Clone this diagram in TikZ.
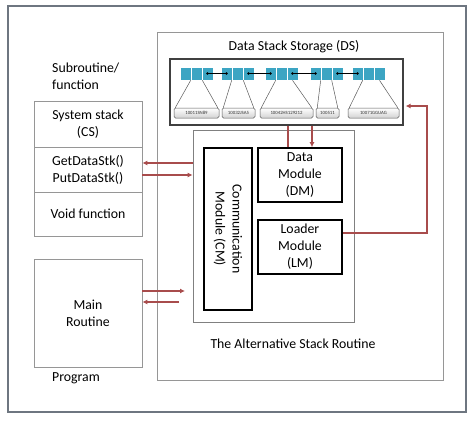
\documentclass[tikz,border=0pt]{standalone}
\usepackage{fontspec}
\setmainfont{Carlito}
\usetikzlibrary{arrows.meta}
\definecolor{arrowred}{RGB}{168,76,76}
\definecolor{cellblue}{RGB}{60,165,195}
\definecolor{framegray}{RGB}{110,118,128}
\definecolor{boxgray}{RGB}{150,150,150}
\begin{document}
\begin{tikzpicture}[x=1pt,y=-1pt,
  txt/.style={font=\fontsize{13.8}{17}\selectfont, align=center, inner sep=0},
  graybox/.style={draw=boxgray, line width=0.8pt, inner sep=0},
  blackbox/.style={draw=black, line width=1.6pt, inner sep=0, font=\fontsize{13.8}{17}\selectfont, align=center},
  arr/.style={draw=arrowred, line width=1.5pt, -{Latex[length=5pt,width=5pt]}},
  redline/.style={draw=arrowred, line width=1.5pt},
  cell/.style={fill=cellblue, draw=white, line width=0.6pt, minimum width=11, minimum height=13, inner sep=0},
  lab/.style={draw=gray!70!black, line width=0.5pt, rounded corners=1.5pt, top color=white, bottom color=gray!35, minimum height=10, inner sep=0, font=\fontsize{4.8}{5}\selectfont, text=gray!40!black},
  fan/.style={draw=gray!70!black, line width=0.5pt},
  link/.style={draw=black, line width=0.6pt}]
\useasboundingbox (0,0) rectangle (474,421);

% frames
\node[draw=framegray, line width=1.5pt, minimum width=458, minimum height=406, inner sep=0] (outer) at (237,209) {};
\node[graybox, minimum width=286, minimum height=348] (alt) at (300,206) {};
\node[draw=black!75, line width=1.2pt, minimum width=233, minimum height=66, inner sep=0] (ds) at (286.5,92) {};
\node[graybox, draw=gray, minimum width=161, minimum height=192] (cont) at (273.5,226) {};

% modules
\node[blackbox, minimum width=48, minimum height=162] (cm) at (228,229) {};
\node[txt, rotate=-90] (cmtext) at (cm.center) {Communication\\Module (CM)};
\node[blackbox, minimum width=84, minimum height=54] (dm) at (300,175) {Data\\Module\\(DM)};
\node[blackbox, minimum width=84, minimum height=54] (lm) at (300,247) {Loader\\Module\\(LM)};

% left stack
\node[graybox, minimum width=108, minimum height=46, txt] (cs1) at (88,124) {System stack\\(CS)};
\node[graybox, minimum width=108, minimum height=45, txt] (cs2) at (88,169.5) {GetDataStk()\\PutDataStk()};
\node[graybox, minimum width=108, minimum height=44, txt] (cs3) at (88,214) {Void function};
\node[graybox, minimum width=108, minimum height=108, txt] (main) at (88,313) {Main\\Routine};

% texts
\node[txt, align=left, anchor=west] (sub) at (52,76) {Subroutine/\\function};
\node[txt, anchor=west] (prog) at (52,378) {Program};
\node[txt] (dstitle) at (294,47) {Data Stack Storage (DS)};
\node[txt] (alttitle) at (293,344) {The Alternative Stack Routine};

% cells
\foreach \g/\x in {1/180,2/221,3/265,4/310,5/352}{
  \foreach \c in {1,2,3}{
    \node[cell] (g\g c\c) at ({\x+11*\c-5.5},73.5) {};
  }
}
\foreach \a/\b in {1/2,2/3,3/4,4/5}{
  \draw[link] (g\a c3.center) -- (g\b c1.center);
  \fill (g\a c3.center) circle (1.4);
  \fill (g\b c1.center) circle (1.4);
}

% labels
\node[lab, minimum width=45] (lab1) at (196.5,113) {10011SN89};
\node[lab, minimum width=33] (lab2) at (238.5,113) {10032JSA5};
\node[lab, minimum width=53] (lab3) at (286.5,113) {10042HS129212};
\node[lab, minimum width=23] (lab4) at (327.5,113) {100511};
\node[lab, minimum width=51] (lab5) at (373.5,113) {10071GGUAG};

% fan lines
\draw[fan] (g1c2.south west) -- ([xshift=1.5pt]lab1.north west);
\draw[fan] (g1c2.south east) -- ([xshift=-1.5pt]lab1.north east);
\draw[fan] (g2c2.south west) -- ([xshift=1.5pt]lab2.north west);
\draw[fan] (g2c2.south east) -- ([xshift=-1.5pt]lab2.north east);
\draw[fan] (g3c2.south west) -- ([xshift=1.5pt]lab3.north west);
\draw[fan] (g3c3.south) -- ([xshift=-1.5pt]lab3.north east);
\draw[fan] (g4c2.south west) -- ([xshift=1.5pt]lab4.north west);
\draw[fan] (g4c3.south west) -- ([xshift=-1.5pt]lab4.north east);
\draw[fan] (g5c2.south west) -- ([xshift=1.5pt]lab5.north west);
\draw[fan] (g5c3.south) -- ([xshift=-1.5pt]lab5.north east);

% helper coordinates
\coordinate (y163) at (0,163);
\coordinate (y175) at (0,175);
\coordinate (y291) at (0,291);
\coordinate (y302) at (0,302);
\coordinate (x288) at (288,0);
\coordinate (x312) at (312,0);
\coordinate (m1) at (185,291);
\coordinate (m2) at (179,302);
\coordinate (lmr) at (427,233);
\coordinate (dsr) at (427,106);

% arrows
\draw[arr] (cont.west |- y163) -- (cs2.east |- y163);
\draw[arr] (cs2.east |- y175) -- (cont.west |- y175);
\draw[arr] (main.east |- y291) -- (m1);
\draw[arr] (m2) -- (main.east |- y302);
\draw[redline] (dm.north -| x288) -- (ds.south -| x288);
\draw[arr] (ds.south -| x312) -- (dm.north -| x312);
\draw[arr, shorten >=2pt] (lm.east |- lmr) -- (lmr) -- (dsr) -- (ds.east |- dsr);
\end{tikzpicture}
\end{document}
